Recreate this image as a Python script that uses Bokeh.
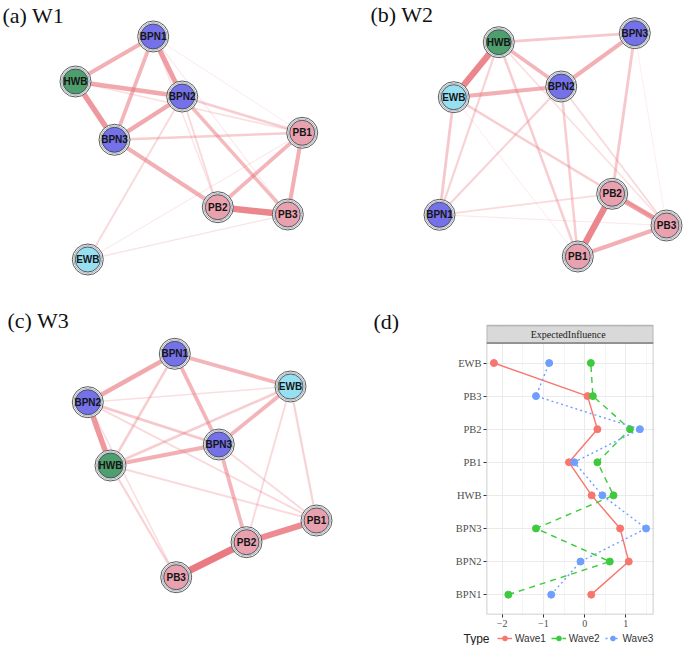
from bokeh.plotting import figure
from bokeh.layouts import column, row
from bokeh.models import (Range1d, Label, BoxAnnotation, FixedTicker, Legend,
                          LegendItem, ColumnDataSource)
from bokeh.core.properties import value
from bokeh.embed import file_html
from bokeh.resources import INLINE

# ---------------- network data ----------------
nodes = ["BPN1", "BPN2", "BPN3", "HWB", "EWB", "PB1", "PB2", "PB3"]
node_colors = ["#7571E8", "#7571E8", "#7571E8", "#4F9E6E", "#97E0F2",
               "#E8A1AF", "#E8A1AF", "#E8A1AF"]

# qgraph layouts (reference pixel space)
w1_x = [152.7, 181.7, 114.0, 75.0, 87.3, 301.7, 217.3, 287.3]
w1_y = [36.0, 96.0, 139.3, 81.0, 259.0, 132.3, 206.7, 214.0]
w2_x = [439.0, 560.7, 634.3, 498.3, 453.3, 577.3, 611.7, 666.0]
w2_y = [214.3, 86.0, 32.7, 41.7, 96.7, 256.0, 193.3, 225.0]
w3_x = [174.3, 87.3, 218.3, 110.0, 290.0, 316.0, 246.0, 175.7]
w3_y = [353.3, 401.7, 444.0, 465.0, 386.0, 520.0, 541.7, 576.7]

w1_from = ["BPN1", "BPN1", "BPN1", "HWB", "HWB", "BPN2", "BPN3", "BPN3", "BPN2",
           "BPN2", "BPN2", "BPN2", "PB1", "PB1", "PB2", "BPN1", "BPN1", "HWB",
           "EWB", "EWB", "BPN1"]
w1_to = ["HWB", "BPN2", "BPN3", "BPN2", "BPN3", "BPN3", "PB1", "PB2", "PB1",
         "PB2", "PB3", "EWB", "PB2", "PB3", "PB3", "PB1", "PB3", "PB1",
         "PB3", "PB1", "PB2"]
w1_w = [0.55, 0.70, 0.50, 0.60, 0.75, 0.60, 0.30, 0.55, 0.30,
        0.20, 0.45, 0.20, 0.50, 0.55, 0.90, 0.06, 0.08, 0.15,
        0.12, 0.07, 0.12]

w2_from = ["HWB", "HWB", "HWB", "EWB", "BPN2", "PB2", "PB2", "PB1", "EWB", "HWB",
           "BPN2", "HWB", "HWB", "BPN2", "BPN2", "BPN3", "BPN3", "EWB", "EWB",
           "BPN1", "BPN1"]
w2_to = ["EWB", "BPN3", "BPN2", "BPN2", "BPN3", "PB1", "PB3", "PB3", "BPN1", "BPN1",
         "BPN1", "PB1", "PB3", "PB1", "PB3", "PB2", "PB3", "PB3", "PB1",
         "PB2", "PB3"]
w2_w = [0.90, 0.35, 0.50, 0.55, 0.55, 0.90, 0.70, 0.55, 0.35, 0.25,
        0.25, 0.30, 0.15, 0.30, 0.20, 0.35, 0.05, 0.30, 0.06,
        0.18, 0.08]

w3_from = ["PB2", "PB2", "BPN1", "BPN1", "BPN2", "BPN1", "BPN3", "HWB", "BPN3",
           "BPN1", "BPN2", "HWB", "BPN2", "BPN2", "HWB", "HWB", "BPN2", "EWB",
           "EWB", "BPN3"]
w3_to = ["PB3", "PB1", "BPN2", "EWB", "HWB", "BPN3", "EWB", "BPN3", "PB2",
         "HWB", "EWB", "EWB", "BPN3", "PB1", "PB1", "PB3", "PB3", "PB2",
         "PB1", "PB1"]
w3_w = [1.00, 0.85, 0.60, 0.50, 0.75, 0.50, 0.50, 0.55, 0.50,
        0.30, 0.15, 0.30, 0.35, 0.20, 0.20, 0.25, 0.15, 0.20,
        0.25, 0.20]

# ---------------- centrality data ----------------
categories = ["BPN1", "BPN2", "BPN3", "HWB", "PB1", "PB2", "PB3", "EWB"]
wave1 = [0.16, 1.07, 0.86, 0.17, -0.38, 0.31, 0.07, -2.20]
wave2 = [-1.85, 0.61, -1.18, 0.70, 0.31, 1.10, 0.20, 0.15]
wave3 = [-0.81, -0.10, 1.49, 0.43, -0.25, 1.34, -1.18, -0.86]
series_names = ["Wave1", "Wave2", "Wave3"]
x_ticks = [-2, -1, 0, 1]

SERIF = "Liberation Serif"
SANS = "Liberation Sans"


def network_fig(width, height, xr, yr, xs, ys, efrom, eto, ew, titles, bottom=0):
    p = figure(width=width, height=height, x_range=Range1d(*xr), y_range=Range1d(*yr),
               output_backend="svg", toolbar_location=None,
               x_axis_location=None, y_axis_location=None,
               min_border=0, min_border_bottom=bottom, outline_line_color=None)
    p.xgrid.visible = False
    p.ygrid.visible = False
    idx = {n: i for i, n in enumerate(nodes)}
    order = sorted(range(len(ew)), key=lambda k: ew[k])
    src = ColumnDataSource(dict(
        x0=[xs[idx[efrom[k]]] for k in order],
        y0=[ys[idx[efrom[k]]] for k in order],
        x1=[xs[idx[eto[k]]] for k in order],
        y1=[ys[idx[eto[k]]] for k in order],
        lw=[0.6 + 6.4 * ew[k] for k in order],
        la=[0.10 + 0.85 * ew[k] for k in order],
    ))
    p.segment("x0", "y0", "x1", "y1", source=src, line_color="#E8737B",
              line_width="lw", line_alpha="la")
    p.scatter(xs, ys, size=31, fill_color="white", line_color="#5A5A5A", line_width=1)
    p.scatter(xs, ys, size=28, fill_color="#E8EEF4", line_color="#9AA4AE", line_width=0.8)
    p.scatter(xs, ys, size=25, fill_color=node_colors, line_color="#3A3A3A", line_width=0.8)
    p.text(xs, ys, text=nodes, text_align="center", text_baseline="middle",
           text_font=value(SANS), text_font_style="bold", text_font_size="10px",
           text_color="#151515")
    for (title, tx, ty) in titles:
        p.add_layout(Label(x=tx, y=ty, text=title, text_font=SERIF, text_font_size="22px",
                           text_baseline="middle", text_align="left", text_color="#111111"))
    return p


fa = network_fig(340, 300, (0, 340), (300, 0), w1_x, w1_y, w1_from, w1_to, w1_w,
                 [("(a) W1", 2, 15)])
fb = network_fig(345, 300, (340, 685), (300, 0), w2_x, w2_y, w2_from, w2_to, w2_w,
                 [("(b) W2", 370, 14)])
# frame spans 300..614, same vertical borders as panel (d)
fc = network_fig(445, 331, (0, 445), (614, 300), w3_x, w3_y, w3_from, w3_to, w3_w,
                 [("(c) W3", 7, 320), ("(d)", 373, 321)], bottom=17)

# ---------------- panel (d) ----------------
fd = figure(width=240, height=331, x_range=Range1d(-2.38, 1.67), y_range=Range1d(0.4, 9.889),
            output_backend="svg", toolbar_location=None,
            min_border_left=41, min_border_right=32, min_border_top=0, min_border_bottom=17)
fd.outline_line_color = None

ypos = list(range(1, len(categories) + 1))
fd.yaxis.ticker = FixedTicker(ticks=ypos)
fd.yaxis.major_label_overrides = {y: c for y, c in zip(ypos, categories)}
fd.xaxis.ticker = FixedTicker(ticks=x_ticks, minor_ticks=[-1.5, -0.5, 0.5, 1.5])
fd.xaxis.major_label_overrides = {t: (str(t).replace("-", "\u2212")) for t in x_ticks}
for ax in (fd.xaxis, fd.yaxis):
    ax.axis_line_color = None
    ax.major_tick_line_color = "#333333"
    ax.major_tick_out = 3
    ax.major_tick_in = 0
    ax.minor_tick_line_color = None
    ax.major_label_text_font = SERIF
    ax.major_label_text_font_size = "10.5px"
    ax.major_label_text_color = "#4D4D4D"
    ax.major_label_standoff = 2
fd.xaxis.major_label_standoff = 1
fd.xaxis.major_label_text_font_size = "10px"
fd.xgrid.grid_line_color = "#EBEBEB"
fd.xgrid.minor_grid_line_color = "#F5F5F5"
fd.ygrid.grid_line_color = "#EBEBEB"

cols = ["#F8766D", "#3DCB3D", "#6E9EFF"]
dashes = ["solid", "6 5", "2 3"]
series_vals = [wave1, wave2, wave3]
for name, vals, c, d in zip(series_names, series_vals, cols, dashes):
    fd.line(vals, ypos, line_color=c, line_width=1.4, line_dash=d)
    fd.scatter(vals, ypos, size=7, fill_color=c, line_color=c)

# blank area above the facet strip, the strip, and the panel border
fd.add_layout(BoxAnnotation(bottom=9.135, fill_color="white", fill_alpha=1, line_color=None))
fd.add_layout(BoxAnnotation(bottom=8.6, top=9.135, fill_color="#D9D9D9", fill_alpha=1,
                            line_color="#333333", line_width=1.6))
fd.add_layout(BoxAnnotation(bottom=0.4, top=8.6, fill_alpha=0,
                            line_color="#333333", line_width=1.6))
fd.add_layout(Label(x=-0.40, y=8.87, text="ExpectedInfluence", text_font=SERIF,
                    text_font_size="10px", text_align="center", text_baseline="middle",
                    text_color="#1A1A1A"))

# ---------------- legend strip along the bottom ----------------
fl = figure(width=685, height=14, x_range=Range1d(0, 685), y_range=Range1d(645, 631),
            output_backend="svg", toolbar_location=None,
            x_axis_location=None, y_axis_location=None,
            min_border=0, outline_line_color=None)
fl.xgrid.visible = False
fl.ygrid.visible = False
items = []
for name, vals, c, d in zip(series_names, series_vals, cols, dashes):
    # legend keys (their data lie outside this strip's visible range)
    lr = fl.line(vals, ypos, line_color=c, line_width=1.4, line_dash=d)
    sr = fl.scatter(vals, ypos, size=7, fill_color=c, line_color=c)
    items.append(LegendItem(label=name, renderers=[lr, sr]))
leg = Legend(items=items, orientation="horizontal", location=(497, 1),
             label_text_font=SANS, label_text_font_size="10px", label_text_color="#333333",
             glyph_width=15, glyph_height=12, label_height=12, label_standoff=3,
             spacing=5, padding=0, margin=0, border_line_color=None,
             background_fill_alpha=0)
fl.add_layout(leg, "center")
fl.add_layout(Label(x=463, y=638, text="Type", text_font=SANS, text_font_size="12px",
                    text_baseline="middle", text_align="left", text_color="#222222"))

layout = column(row(fa, fb), row(fc, fd), fl)
open("out.html", "w").write(file_html(layout, INLINE))
